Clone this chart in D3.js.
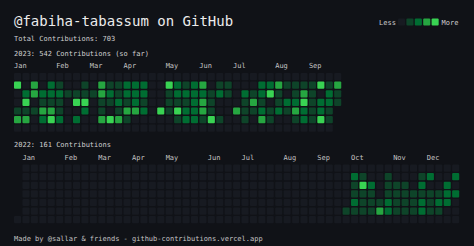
<!DOCTYPE html>
<html lang="en">
<head>
<meta charset="UTF-8">
<title>GitHub contributions</title>
<style>
  html, body { margin: 0; padding: 0; background: #101217; }
  text { font-family: "DejaVu Sans Mono", "Liberation Mono", monospace; }
</style>
</head>
<body>
<div id="my_dataviz"></div>
<script src="https://d3js.org/d3.v7.min.js"></script>
<script>
// contribution levels, one string per weekday (Sun..Sat), one digit per week column
// "|" every 10 weeks is only there for reading
var levels2023 = [
  "0000000000|0000000000|0000000000|000000000",
  "4030210010|3112220042|1230110002|231111413",
  "0232221111|3212220012|2221210212|410131021",
  "0401110440|1121210011|1231000131|012241221",
  "1113310020|1013320414|2231003112|121321210",
  "3302420200|3431000001|2214100103|100121410",
  "0000000000|0000000000|0000000000|000000000"
];
var levels2022 = [
  "0000000000|0000000000|0000000000|0000000000|0000000000|000",
  "0000000000|0000000000|0000000000|0000000000|2100100012|002",
  "0000000000|0000000000|0000000000|0000000000|1420111020|020",
  "0000000000|0000000000|0000000000|0000000000|1110111111|122",
  "0000000000|0000000000|0000000000|0000000000|2111211121|220",
  "0000000000|0000000000|0000000000|0000000001|1113211121|100",
  "0000000000|0000000000|0000000000|0000000000|0000000000|000"
];
var years = [2023, 2022];
var yearTitles = ["2023: 542 Contributions (so far)", "2022: 161 Contributions"];
var lastDays = [new Date(2023, 8, 27), new Date(2022, 11, 31)];
var monthNames = ["Jan","Feb","Mar","Apr","May","Jun","Jul","Aug","Sep","Oct","Nov","Dec"];
var legendLevels = [0, 1, 2, 3, 4];

var width = 474, height = 246;
var svg = d3.select("#my_dataviz").append("svg")
    .attr("width", width).attr("height", height)
    .style("display", "block");

svg.append("rect").attr("width", width).attr("height", height).attr("fill", "#101217");

var color = d3.scaleOrdinal()
    .domain([0, 1, 2, 3, 4])
    .range(["#171a21", "#0e4429", "#006d32", "#26a641", "#39d353"]);

// week columns share one scale for both years
var x = d3.scaleBand().domain(d3.range(53)).range([14, 14 + 53 * 8.4]).paddingInner(0.16);

svg.append("text").attr("x", 14).attr("y", 26)
    .attr("fill", "#ececec").style("font-size", "14px")
    .text("@fabiha-tabassum on GitHub");
svg.append("text").attr("x", 14).attr("y", 40.5)
    .attr("fill", "#cfcfcf").style("font-size", "7px")
    .text("Total Contributions: 703");

// legend
var lg = svg.append("g");
lg.append("text").attr("x", 379).attr("y", 24.5).attr("fill", "#cfcfcf").style("font-size", "7px").text("Less");
lg.selectAll("rect").data(legendLevels).enter().append("rect")
    .attr("x", function(d, i) { return 398 + i * 8.4; })
    .attr("y", 18.5)
    .attr("width", x.bandwidth()).attr("height", x.bandwidth())
    .attr("rx", 1)
    .attr("fill", function(d) { return color(d); });
lg.append("text").attr("x", 441.5).attr("y", 24.5).attr("fill", "#cfcfcf").style("font-size", "7px").text("More");

var blockTops = [73, 164.5];

years.forEach(function(year, k) {
  var rows = (k === 0 ? levels2023 : levels2022).map(function(s) { return s.replace(/\|/g, ""); });
  var top = blockTops[k];
  var y = d3.scaleBand().domain(d3.range(7)).range([top, top + 7 * 8.4]).paddingInner(0.16);
  var start = new Date(year, 0, 1);
  var days = d3.timeDays(start, d3.timeDay.offset(lastDays[k], 1)).map(function(d) {
    var w = d3.timeWeek.count(start, d);
    return { date: d, week: w, day: d.getDay(), level: +rows[d.getDay()][w] };
  });

  var g = svg.append("g");
  g.append("text").attr("x", 14).attr("y", top - 17.5)
      .attr("fill", "#cfcfcf").style("font-size", "7px")
      .text(yearTitles[k]);

  g.selectAll("text.month")
      .data(d3.timeMonths(start, d3.timeDay.offset(lastDays[k], 1)))
      .enter().append("text")
      .attr("class", "month")
      .attr("x", function(m) { return x(d3.timeWeek.count(start, d3.timeSunday.ceil(m))); })
      .attr("y", top - 5)
      .attr("fill", "#c4c4c4").style("font-size", "7px")
      .text(function(m) { return monthNames[m.getMonth()]; });

  g.selectAll("rect.day").data(days).enter().append("rect")
      .attr("class", "day")
      .attr("x", function(d) { return x(d.week); })
      .attr("y", function(d) { return y(d.day); })
      .attr("width", x.bandwidth()).attr("height", y.bandwidth())
      .attr("rx", 1)
      .attr("fill", function(d) { return color(d.level); });
});

svg.append("text").attr("x", 14).attr("y", 241)
    .attr("fill", "#c4c4c4").style("font-size", "7px")
    .text("Made by @sallar & friends - github-contributions.vercel.app");
</script>
</body>
</html>
